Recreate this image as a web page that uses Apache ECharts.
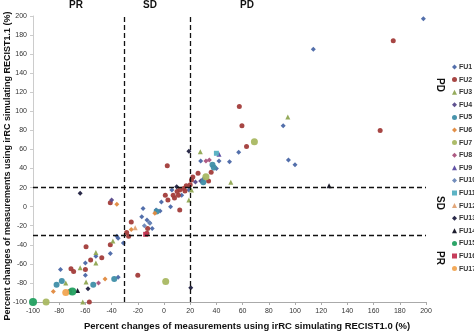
<!DOCTYPE html>
<html>
<head>
<meta charset="utf-8">
<script src="https://cdn.jsdelivr.net/npm/echarts@6/dist/echarts.min.js"></script>
<style>
html,body{margin:0;padding:0;background:#fff;}
#chart{width:474px;height:333px;}
</style>
</head>
<body>
<div id="chart"></div>
<script>
// Percent change per lesion: RECIST1.0 (x) vs RECIST1.1 (y), one series per follow-up
const FU1 = [[198,197],[114,165],[91,85],[57,57],[50,47],[95,49],[100,44],[28,48],[42,48],[40,40],[30,29],[13.5,12],[19,17.5],[6,17.5],[-2,5],[5,0],[-3,-4.5],[-16,-2],[-6,-3.5],[-17,-10.5],[-13,-14],[-11,-17],[-9,-23],[-35,-33],[-36,-31],[-31,-38],[-41,-49],[-52,-52],[-60,-59],[-79,-66],[-60,-72],[-35,-74]];
const FU2 = [[175,174],[165,80],[57.5,105],[59.5,85],[63,63],[36,36],[2.5,43],[26,35],[34,27],[22,31],[21,28],[20,23],[17,22],[15,19],[16,16.5],[12,17.5],[11,12],[10,16],[7,12],[8,9],[3,7],[1,12],[12,-3.5],[-25,-16],[-41,4],[-13,-28],[-12.5,-23],[-28.5,-27],[-27,-31],[-41,-40],[-59.5,-42],[-56,-56],[-47.5,-53.5],[-71,-65],[-69,-68],[-60,-66],[-72,-89],[-57,-100],[-20,-72]];
const FU3 = [[94.5,94],[51,25.6],[27.7,57.7],[19,7],[21,17.5],[-64,-64],[-52,-59],[-52,-48],[-39,-36],[-75,-80],[-59.5,-79],[-62,-100]];
const FU4 = [[-40,7],[24,26],[28,27]];
const FU5 = [[37,44],[38,41],[30,25.6],[-82,-82],[-78,-78],[-54,-82],[-38,-76],[-5.6,-5.2]];
const FU6 = [[-36,2.5],[-7,-7],[-84.5,-89],[-45,-76],[-25,-24]];
const FU7 = [[69,68],[32,31.5],[1.3,-78.6],[-90,-100]];
const FU8 = [[32,48],[34.6,49],[-50,-80]];
const FU9 = [[42,55]];
const FU10 = [[-10.7,-17.4],[-15,-20]];
const FU11 = [[40,56]];
const FU12 = [[-22,-22]];
const FU13 = [[-64,14],[19,58],[20.4,-85],[-58,-86],[9.7,21]];
const FU14 = [[126,22],[-66,-88]];
const FU15 = [[-100,-100],[-70,-89]];
const FU16 = [[-14,-29]];
const FU17 = [[-75,-90]];

const seriesNames = ['FU1','FU2','FU3','FU4','FU5','FU6','FU7','FU8','FU9','FU10','FU11','FU12','FU13','FU14','FU15','FU16','FU17'];
const seriesData = [FU1,FU2,FU3,FU4,FU5,FU6,FU7,FU8,FU9,FU10,FU11,FU12,FU13,FU14,FU15,FU16,FU17];
const seriesColors = ['#4a67a6','#a23c3a','#8fa652','#57498a','#3f8ea8','#e0893e','#a9b862','#a9527c','#5a4aa0','#6c87b8','#55b0c2','#e0a274','#1f1f3f','#111122','#22a060','#c33352','#f1a552'];
const seriesSymbols = ['diamond','circle','triangle','diamond','circle','diamond','circle','diamond','triangle','diamond','rect','triangle','diamond','triangle','circle','rect','circle'];
const seriesSizes = [5,5,5,5,6,5,7,5,5,5,5,5,5,5,8,5,7];

// Response thresholds: PR <= -30, SD, PD >= 20
const thresholds = [-30, 20];
const ticks = {min: -100, max: 200, step: 20};

const font = 'Liberation Sans';
const chart = echarts.init(document.getElementById('chart'));

const series = seriesNames.map((name, i) => ({
  name: name,
  type: 'scatter',
  data: seriesData[i],
  symbol: seriesSymbols[i],
  symbolSize: seriesSizes[i],
  itemStyle: {color: seriesColors[i], opacity: 0.95},
  z: 3
}));

// Dashed threshold lines
series.push({
  type: 'scatter',
  data: [],
  silent: true,
  markLine: {
    silent: true,
    symbol: 'none',
    label: {show: false},
    lineStyle: {color: '#111', type: [5, 3], width: 1.3},
    data: thresholds.map(v => ({xAxis: v})).concat(thresholds.map(v => ({yAxis: v})))
  }
});

chart.setOption({
  animation: false,
  textStyle: {fontFamily: font},
  grid: {left: 33, right: 48, top: 16, bottom: 31, containLabel: false, outerBoundsMode: 'none'},
  legend: {
    orient: 'vertical',
    left: 452,
    top: 63,
    padding: 0,
    itemWidth: 5,
    itemHeight: 5,
    itemGap: 4.6,
    data: seriesNames,
    textStyle: {fontSize: 7, fontWeight: 'bold', color: '#333', lineHeight: 8, padding: [0, 0, 0, -3]}
  },
  xAxis: {
    type: 'value',
    min: ticks.min, max: ticks.max, interval: ticks.step,
    axisLine: {onZero: false, lineStyle: {color: '#aaa'}},
    axisTick: {show: true, length: 3, lineStyle: {color: '#aaa'}},
    axisLabel: {fontSize: 7, color: '#333', margin: 6},
    splitLine: {show: false}
  },
  yAxis: {
    type: 'value',
    min: ticks.min, max: ticks.max, interval: ticks.step,
    axisLine: {show: true, onZero: false, lineStyle: {color: '#ccc'}},
    axisTick: {show: true, length: 3, lineStyle: {color: '#ccc'}},
    axisLabel: {fontSize: 7, color: '#333', margin: 6},
    splitLine: {show: false}
  },
  graphic: [
    {type: 'text', x: 247, y: 326, style: {text: 'Percent changes of measurements using irRC simulating RECIST1.0 (%)', font: 'bold 9.5px ' + font, fill: '#111', align: 'center', verticalAlign: 'middle'}},
    {type: 'text', x: 8, y: 166, rotation: Math.PI / 2, style: {text: 'Percent changes of measurements using irRC simulating RECIST1.1 (%)', font: 'bold 9px ' + font, fill: '#111', align: 'center', verticalAlign: 'middle'}},
    {type: 'text', left: 69, top: 0, style: {text: 'PR', font: 'bold 10px ' + font, fill: '#111'}},
    {type: 'text', left: 143, top: 0, style: {text: 'SD', font: 'bold 10px ' + font, fill: '#111'}},
    {type: 'text', left: 240, top: 0, style: {text: 'PD', font: 'bold 10px ' + font, fill: '#111'}},
    {type: 'text', x: 440, y: 85, rotation: -Math.PI / 2, style: {text: 'PD', font: 'bold 10px ' + font, fill: '#111', align: 'center', verticalAlign: 'middle'}},
    {type: 'text', x: 440, y: 203, rotation: -Math.PI / 2, style: {text: 'SD', font: 'bold 10px ' + font, fill: '#111', align: 'center', verticalAlign: 'middle'}},
    {type: 'text', x: 440, y: 258, rotation: -Math.PI / 2, style: {text: 'PR', font: 'bold 10px ' + font, fill: '#111', align: 'center', verticalAlign: 'middle'}}
  ],
  series: series
});
</script>
</body>
</html>
